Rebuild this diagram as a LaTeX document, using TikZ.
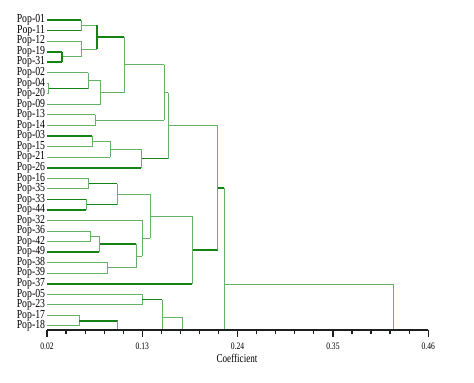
\documentclass[tikz,border=0pt]{standalone}
\usepackage{fontspec}
\setmainfont{Liberation Serif}
\usetikzlibrary{calc}
\definecolor{treeDark}{RGB}{22,130,22}
\definecolor{treeLight}{RGB}{104,178,104}
\definecolor{axisInk}{RGB}{30,30,30}
\tikzset{
    lt/.style={draw=treeLight, line width=0.5pt},
    dk/.style={draw=treeDark, line width=0.85pt},
    axisline/.style={draw=axisInk, line width=0.6pt},
    poplab/.style={anchor=east, inner sep=0pt, font=\fontsize{4.9}{5}\selectfont},
    ticklab/.style={inner sep=0pt, font=\fontsize{3.8}{4}\selectfont}
}

\begin{document}
\begin{tikzpicture}[x=0.5pt, y=-0.5pt]
\path[use as bounding box, fill=white] (0,0) rectangle (474,382);

% leaves
\foreach \p [count=\i from 0] in {01,11,12,19,31,02,04,20,09,13,14,03,15,21,26,16,35,33,44,32,36,42,49,38,39,37,05,23,17,18}{
    \coordinate (p\p) at (47,{20+10.55*\i});
    \node[poplab] (lab\p) at (45.5,{20+10.55*\i}) {\scalebox{1}[1.25]{Pop-\p}};
}

% merge points
\coordinate (m1) at (81.3,25.3);
\coordinate (m2) at (62.3,56.9);
\coordinate (m3) at (81.3,49.0);
\coordinate (m4) at (96.7,37.2);
\coordinate (m5) at (48.3,88.6);
\coordinate (m6) at (88.3,80.7);
\coordinate (m7) at (100.7,92.5);
\coordinate (m8) at (124,64.9);
\coordinate (m9) at (95,120.2);
\coordinate (m10) at (164,92.5);
\coordinate (m11) at (92,141.3);
\coordinate (m12) at (110,149.2);
\coordinate (m13) at (141,158.5);
\coordinate (m14) at (168.3,125.5);
\coordinate (m15) at (88.3,183.5);
\coordinate (m16) at (86,204.6);
\coordinate (m17) at (117.3,194.1);
\coordinate (m18) at (90.7,236.3);
\coordinate (m19) at (99,244.2);
\coordinate (m20) at (107.7,267.9);
\coordinate (m21) at (136,256.1);
\coordinate (m22) at (142.3,238.3);
\coordinate (m23) at (150,216.2);
\coordinate (m24) at (192,250);
\coordinate (m25) at (217.7,187.7);
\coordinate (m26) at (142.3,299.6);
\coordinate (m27) at (79,320.7);
\coordinate (m28) at (224,284);
\coordinate (m29) at (162.3,317.3);
\coordinate (c1) at (393.3,284);
\coordinate (c2) at (182.7,317.3);
\coordinate (c3) at (117.7,320.7);

% axis
\coordinate (ax0) at (47,330);
\coordinate (ax1) at (428.2,330);

% horizontal branches
\foreach \c/\m in {p12/m3,m2/m3,m1/m4,m3/m4,p02/m6,p04/m5,p20/m5,m6/m7,p09/m7,m7/m8,
    p13/m9,p14/m9,m8/m10,m9/m10,p15/m11,m11/m12,p21/m12,m12/m13,m10/m14,p16/m15,
    p35/m15,m17/m23,p36/m18,p42/m18,m18/m19,p38/m20,p39/m20,m20/m21,p32/m22,m21/m22,
    m22/m23,m23/m24,m14/m25,p05/m26,p23/m26,p17/m27,p18/m27}
    \draw[lt] (\c) -- (\c -| \m);
\foreach \c/\m in {p01/m1,p11/m1,p19/m2,p31/m2,m4/m8,m5/m6,p03/m11,p26/m13,m13/m14,
    m15/m17,p33/m16,p44/m16,m16/m17,p49/m19,m19/m21,p37/m24,m24/m25}
    \draw[dk] (\c) -- (\c -| \m);

% vertical joins
\foreach \m/\a/\b in {m1/p01/p11,m3/p12/m2,m5/p04/p20,m6/p02/m5,m7/m6/p09,m8/m4/m7,
    m9/p13/p14,m10/m8/m9,m11/p03/p15,m12/m11/p21,m13/m12/p26,m14/m10/m13,m15/p16/p35,
    m16/p33/p44,m17/m15/m16,m18/p36/p42,m19/m18/p49,m20/p38/p39,m21/m19/m20,m22/p32/m21,
    m23/m17/m22,m24/m23/p37,m25/m14/m24,m26/p05/p23,m27/p17/p18}
    \draw[lt] (\a -| \m) -- (\b -| \m);
\draw[dk] (p19 -| m2) -- (p31 -| m2);
\draw[dk] (m1 -| m4) -- (m3 -| m4);

% outer branches cut at the axis
\draw[dk] (m25) -- (m25 -| m28);
\draw[lt] (m25 -| m28) -- (m28 |- ax0);
\draw[lt] (m28) -- (c1) -- (c1 |- ax0);
\draw[dk] (m26) -- (m26 -| m29);
\draw[lt] (m26 -| m29) -- (m29 |- ax0);
\draw[lt] (m29) -- (c2) -- (c2 |- ax0);
\draw[dk] (m27) -- (c3);
\draw[lt] (c3) -- (c3 |- ax0);

\draw[axisline] (ax0) -- (ax1);
\foreach \i in {0,...,20}{
    \pgfmathsetmacro\tl{mod(\i,5)==0 ? 7 : 4}
    \draw[axisline] ($(ax0)+({19.06*\i},0)$) -- ++(0,\tl);
}
\foreach \v [count=\i from 0] in {0.02,0.13,0.24,0.35,0.46}
    \node[ticklab] (tick\i) at ({47+95.3*\i},346.7) {\scalebox{1}[1.3]{\v}};
\node[ticklab, font=\fontsize{4.55}{5}\selectfont] (coef) at (237,358.5) {\scalebox{1}[1.3]{Coefficient}};
\end{tikzpicture}
\end{document}
